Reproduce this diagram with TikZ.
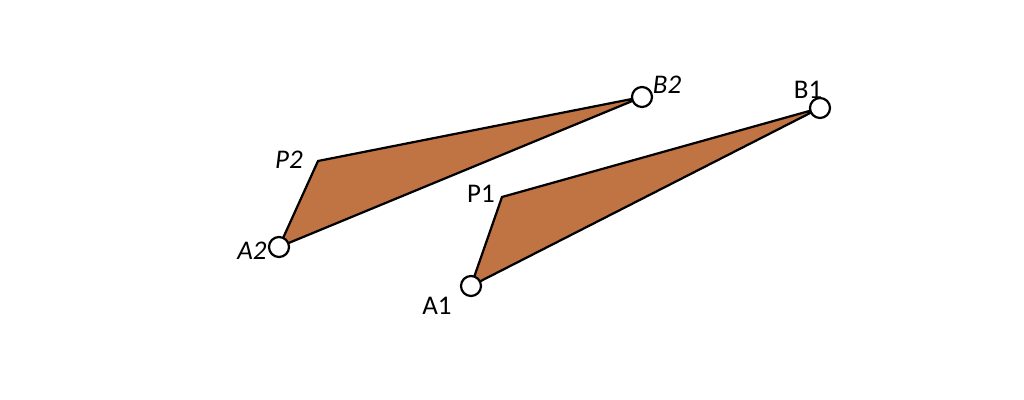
\documentclass[tikz,border=0pt]{standalone}
\usepackage{fontspec}
\setmainfont{Carlito}
\usepackage{xcolor}
\usepackage{tikz}
\definecolor{linkbrown}{RGB}{193,116,67}
\tikzstyle{link} = [draw=black, fill=linkbrown, line width=1.9pt, line join=miter]
\tikzstyle{joint} = [circle, draw=black, fill=white, line width=1.9pt, minimum size=0.6cm, inner sep=0pt]
\tikzstyle{lbl} = [font=\fontsize{23}{26}\selectfont, inner sep=0pt]

\begin{document}
\begin{tikzpicture}[x=0.03cm, y=-0.03cm]
   \useasboundingbox (0,0) rectangle (1024,400);
   \coordinate (a2) at (279,247);
   \coordinate (p2) at (318,161);
   \coordinate (b2) at (642,97);
   \coordinate (a1) at (471,286);
   \coordinate (p1) at (502,197);
   \coordinate (b1) at (820,108);
   \draw [link] (a2) -- (p2) -- (b2) -- cycle;
   \draw [link] (a1) -- (p1) -- (b1) -- cycle;
   \node (A2) [joint] at (a2) {};
   \node (B2) [joint] at (b2) {};
   \node (A1) [joint] at (a1) {};
   \node (B1) [joint] at (b1) {};
   \node (lp2) [lbl] at (289,160) {\textit{P2}};
   \node (la2) [lbl] at (252,251) {\textit{A2}};
   \node (lb2) [lbl] at (667,85) {\textit{B2}};
   \node (lp1) [lbl] at (481,194) {P1};
   \node (la1) [lbl] at (437,306) {A1};
   \node (lb1) [lbl] at (808,90) {B1};
\end{tikzpicture}
\end{document}
